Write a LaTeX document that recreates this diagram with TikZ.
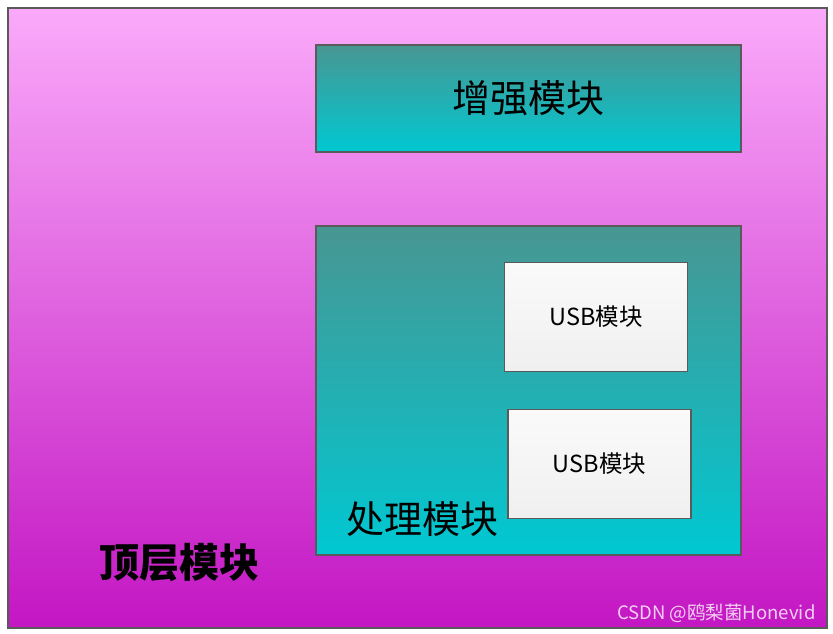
\documentclass[tikz,border=0pt]{standalone}
\usepackage{fontspec}
\newfontfamily\cjk{Noto Sans CJK SC}
\usetikzlibrary{positioning}

\definecolor{pinktop}{RGB}{250,170,250}
\definecolor{pinkbot}{RGB}{195,22,195}
\definecolor{tealtop}{RGB}{72,150,146}
\definecolor{tealbot}{RGB}{0,200,210}
\definecolor{framegray}{RGB}{90,90,90}

\tikzset{
    topbox/.style={draw=framegray,line width=1.2pt,top color=pinktop,bottom color=pinkbot,
        inner sep=0pt,outer sep=0pt},
    tealbox/.style={draw=framegray,line width=1.4pt,top color=tealtop,bottom color=tealbot,
        inner sep=0pt,outer sep=0pt,font=\cjk\fontsize{38}{42}\selectfont},
    usbbox/.style={draw=framegray,line width=1.2pt,top color=white!96!gray,bottom color=white!88!gray,
        inner sep=0pt,outer sep=0pt,minimum width=183pt,minimum height=109pt,
        font=\cjk\fontsize{23.5}{26}\selectfont},
}

\begin{document}
\begin{tikzpicture}[x=1pt,y=-1pt]
        % 画布大小
        \useasboundingbox (0,0) rectangle (833,634);
        % 顶层模块外框
        \node [topbox,minimum width=819pt,minimum height=620pt] (top) at (417.5,318) {};
        \node [font=\cjk\bfseries\fontsize{40}{44}\selectfont] (toplabel) at (179,563) {顶层模块};
        % 增强模块
        \node [tealbox,minimum width=425pt,minimum height=107pt] (enh) at (528.5,98.5) {增强模块};
        % 处理模块及其中的两个USB模块
        \node [tealbox,minimum width=425pt,minimum height=329pt] (proc) at (528.5,390.5) {};
        \node [font=\cjk\fontsize{38}{42}\selectfont] (proclabel) at (422,519) {处理模块};
        \node [usbbox] (usba) at (596,317) {USB模块};
        \node [usbbox] (usbb) at (599.5,464) {USB模块};
        % 水印
        \node [font=\cjk\fontsize{18.5}{20}\selectfont,text=white!80!pinkbot,anchor=east] (mark) at (819,613) {CSDN @鸥梨菌Honevid};
    \end{tikzpicture}
\end{document}
